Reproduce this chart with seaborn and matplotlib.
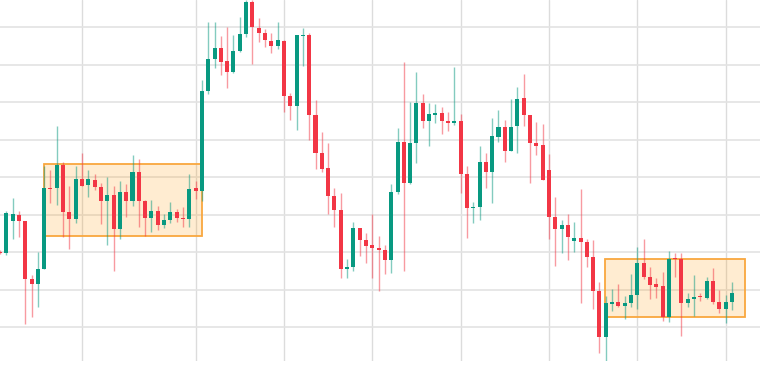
import numpy as np
import pandas as pd
import seaborn as sns
import matplotlib.pyplot as plt
from matplotlib.patches import Rectangle

sns.set_theme(style="white")

# candle values (price units, 117 candles)
opens = [148, 147, 179, 185, 179, 121, 116, 131, 212, 212, 235, 188, 181, 221, 215, 220, 213, 199, 205, 171,
         208, 199, 228, 199, 182, 189, 175, 180, 188, 182, 181, 212, 209, 309, 341, 352, 339, 328, 349, 366,
         398, 372, 367, 359, 354, 359, 304, 294, 364, 365, 285, 247, 232, 204, 190, 131, 133, 172, 160, 155,
         152, 150, 140, 208, 258, 217, 257, 297, 279, 285, 287, 279, 277, 279, 226, 192, 193, 238, 228, 263,
         273, 249, 274, 302, 285, 257, 255, 230, 183, 171, 175, 159, 162, 158, 143, 109, 63, 96, 98, 94,
         97, 105, 137, 123, 116, 114, 83, 142, 141, 97, 101, 104, 102, 119, 98, 91, 98]
highs = [150, 189, 202, 189, 179, 125, 148, 234, 230, 274, 238, 214, 234, 247, 230, 226, 217, 223, 214, 219,
         216, 245, 241, 200, 200, 194, 186, 198, 191, 193, 226, 219, 320, 378, 378, 364, 373, 365, 383, 400,
         400, 382, 371, 367, 378, 360, 307, 365, 372, 367, 300, 268, 257, 212, 207, 141, 178, 172, 167, 186,
         164, 155, 216, 272, 338, 298, 328, 306, 297, 296, 293, 288, 333, 286, 234, 198, 254, 247, 282, 290,
         280, 301, 313, 326, 285, 278, 276, 246, 203, 180, 186, 178, 211, 161, 160, 118, 104, 111, 116, 104,
         126, 153, 161, 133, 122, 128, 149, 147, 147, 107, 125, 107, 123, 132, 110, 105, 118]
lows = [146, 145, 161, 163, 76, 83, 93, 131, 197, 195, 163, 151, 177, 214, 203, 210, 176, 155, 129, 161,
        183, 194, 173, 164, 168, 170, 172, 177, 178, 173, 173, 201, 199, 306, 332, 325, 312, 327, 348, 363,
        336, 358, 353, 347, 351, 288, 280, 270, 334, 260, 231, 228, 186, 173, 122, 122, 129, 144, 137, 122,
        109, 126, 127, 206, 129, 216, 237, 272, 254, 277, 266, 269, 275, 207, 162, 177, 180, 212, 197, 258,
        238, 249, 247, 274, 217, 245, 220, 161, 134, 147, 140, 148, 97, 133, 91, 47, 39, 89, 93, 81,
        93, 91, 121, 101, 102, 79, 78, 123, 64, 93, 84, 99, 101, 96, 87, 77, 90]
closes = [147, 187, 186, 179, 121, 116, 131, 212, 211, 235, 188, 181, 221, 214, 221, 213, 199, 205, 171, 208,
          199, 228, 199, 182, 189, 175, 180, 188, 182, 181, 211, 209, 309, 341, 352, 338, 328, 349, 366, 398,
          373, 367, 360, 354, 360, 304, 294, 365, 365, 285, 247, 231, 204, 190, 131, 133, 172, 160, 154, 152,
          150, 140, 208, 258, 217, 257, 297, 279, 286, 287, 279, 277, 279, 226, 192, 193, 238, 228, 264, 273,
          249, 273, 301, 285, 257, 254, 220, 183, 171, 175, 163, 162, 158, 143, 109, 63, 97, 98, 94, 97,
          105, 137, 123, 115, 113, 83, 141, 141, 97, 101, 103, 103, 119, 98, 91, 98, 107]

# consolidation zones: (first candle, last candle, top price, bottom price)
zone_starts = [6.93, 95.9]
zone_ends = [32.06, 118.1]
zone_tops = [235.7, 141.3]
zone_bottoms = [164.0, 83.0]

# date gridlines fall on these candles
date_ticks = [13, 31, 45, 59, 73, 87, 101, 115]

df = pd.DataFrame({"open": opens, "high": highs, "low": lows, "close": closes})
df["idx"] = np.arange(len(df))
df["up"] = df["close"] >= df["open"]

green = "#089981"
red = "#F23645"

fig = plt.figure(figsize=(7.68, 3.66), dpi=100)
ax = fig.add_axes([0, 5 / 366, 760 / 768, 361 / 366])

for x in date_ticks:
    ax.axvline(x, color="#dcdcdc", lw=1, zorder=0)
for y in np.arange(73, 400, 37.45):
    ax.axhline(y, color="#e3e3e3", lw=1.2, zorder=0)

for s, e, t, b in zip(zone_starts, zone_ends, zone_tops, zone_bottoms):
    ax.add_patch(Rectangle((s, b), e - s, t - b, facecolor="#ff9800", alpha=0.18,
                           edgecolor="none", zorder=1))
    ax.add_patch(Rectangle((s, b), e - s, t - b, facecolor="none",
                           edgecolor="#f9a73e", lw=1.3, zorder=1.5))

colors = np.where(df["up"], green, red)
ax.vlines(df["idx"], df["low"], df["high"], colors=colors, lw=1, alpha=0.5, zorder=2)
bottoms = np.minimum(df["open"], df["close"])
heights = np.maximum(np.abs(df["close"] - df["open"]), 1.2)
ax.bar(df["idx"], heights, bottom=bottoms, width=0.64, color=colors, linewidth=0, zorder=3)

ax.set_xlim(0, 760 / 6.31)
ax.set_ylim(39, 400)
ax.set_xticks([])
ax.set_yticks([])
sns.despine(ax=ax, left=True, bottom=True)

plt.savefig("out.png", dpi=100)
